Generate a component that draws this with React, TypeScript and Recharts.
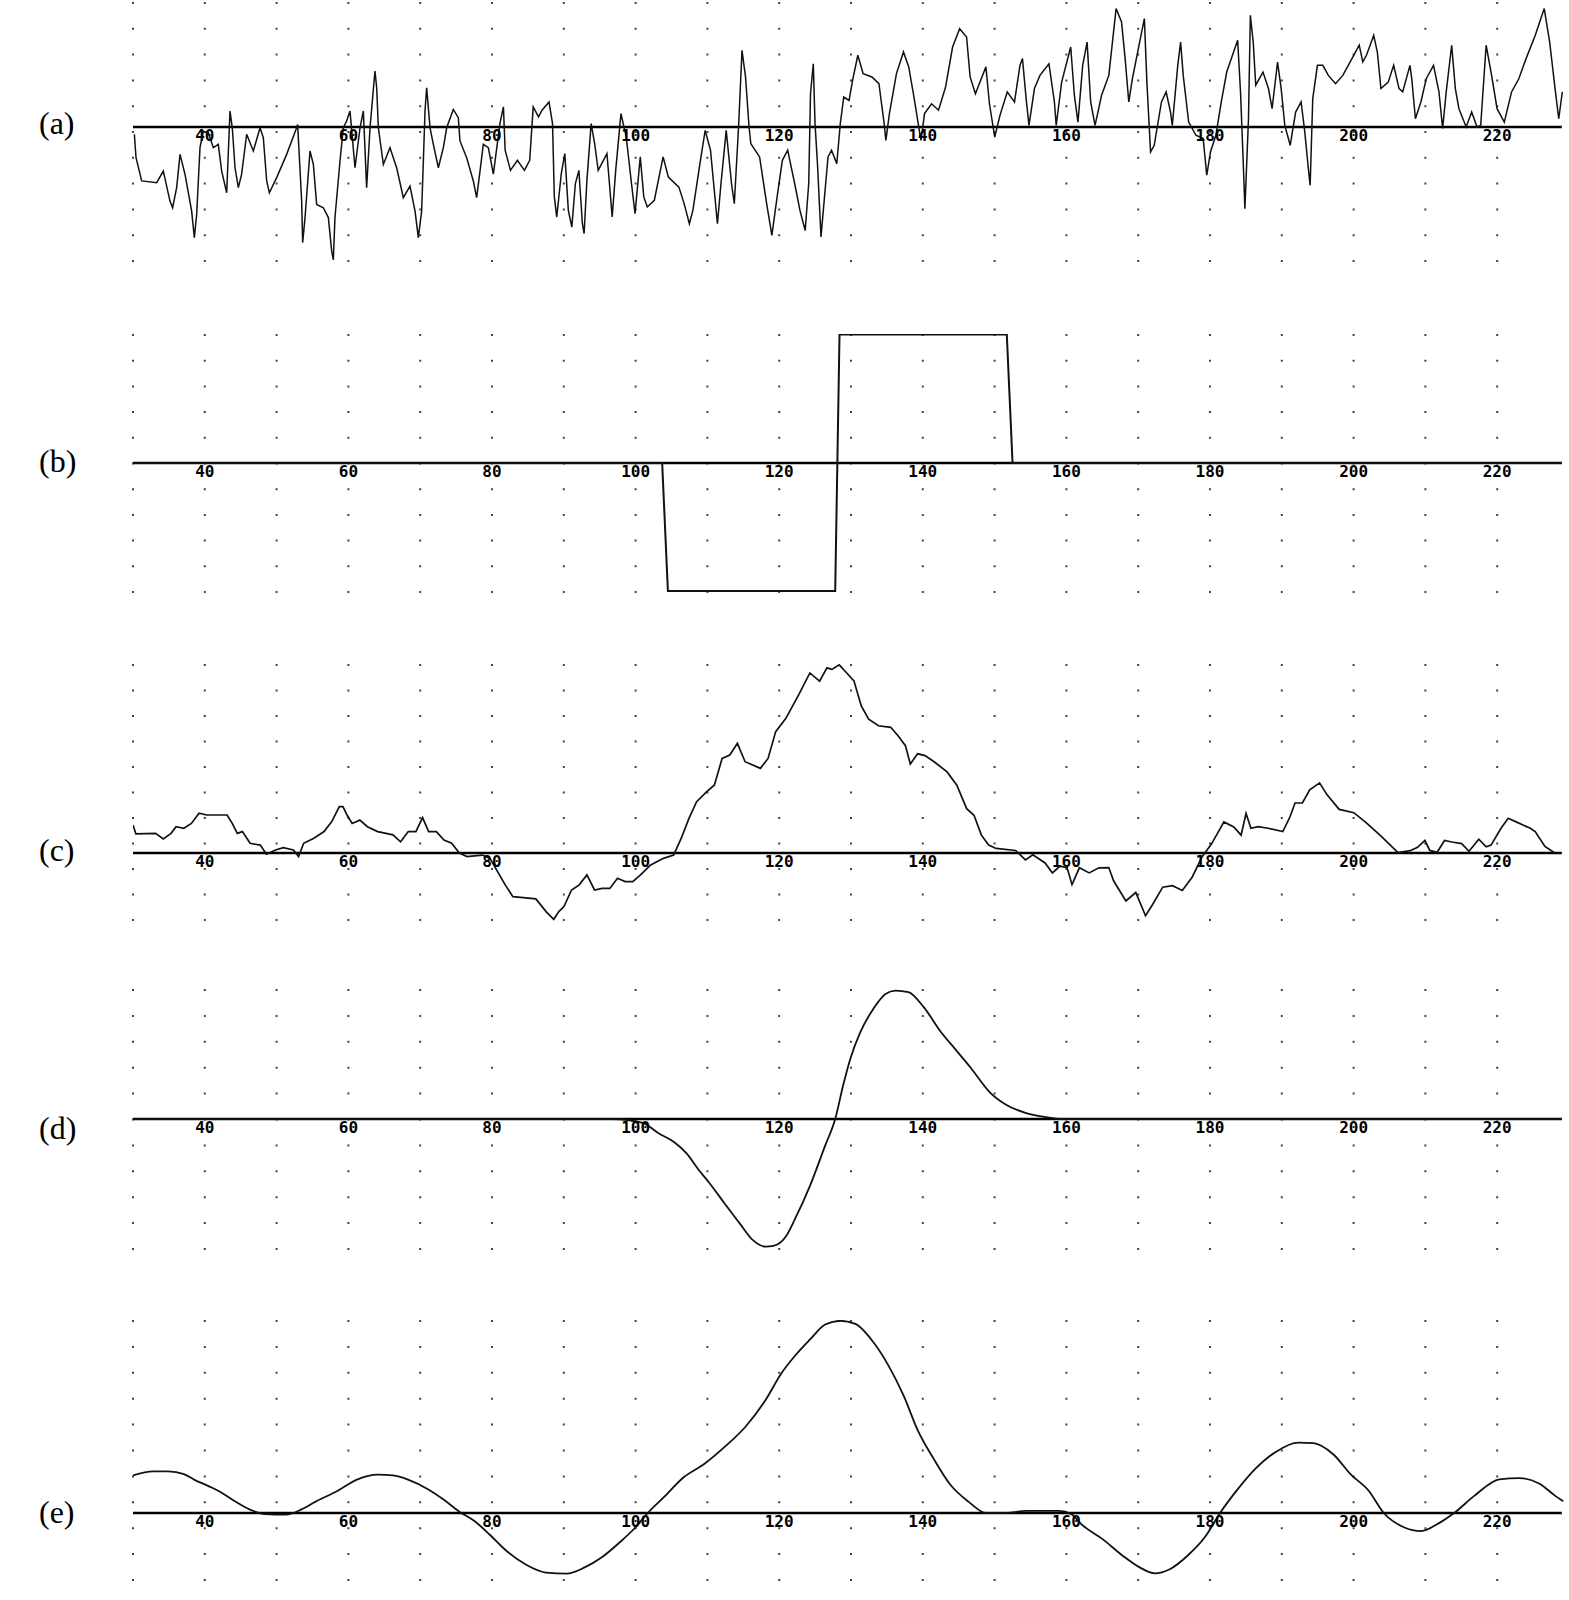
import React from 'react';
import { LineChart, Line, XAxis, YAxis, CartesianGrid, ReferenceLine, ReferenceDot } from 'recharts';

// x positions of the printed axis numbers and of the dot-grid columns
const tickValues = [40, 60, 80, 100, 120, 140, 160, 180, 200, 220];
const gridColumns = [30, 40, 50, 60, 70, 80, 90, 100, 110, 120, 130, 140, 150, 160, 170, 180, 190, 200, 210, 220];
const panelNames = ['(a)', '(b)', '(c)', '(d)', '(e)'];

// (a) noisy input signal, y in grid-row units
const traceA: [number, number][] = [
  [30.19, -0.28], [30.42, -1.19], [31.21, -2.09], [33.3, -2.16], [34.22, -1.71], [35.15, -2.87], [35.52, -3.13],
  [36.08, -2.35], [36.55, -1.06], [37.24, -1.83], [38.17, -3.26], [38.54, -4.29], [38.87, -3.39], [39.33, -0.8],
  [39.8, -0.16], [40.49, -0.22], [41.19, -0.8], [41.88, -0.67], [42.35, -1.71], [43.05, -2.55], [43.51, 0.62],
  [43.83, -0.03], [44.21, -1.58], [44.67, -2.35], [45.13, -1.83], [45.83, -0.28], [46.76, -0.93], [47.69, -0.03],
  [48.15, -0.41], [48.62, -2.09], [48.99, -2.55], [50.01, -1.96], [51.4, -1.06], [52.79, -0.03], [52.93, 0.1],
  [53.49, -2.87], [53.63, -4.48], [53.96, -3.51], [54.65, -0.93], [55.12, -1.45], [55.58, -3.0], [56.51, -3.13],
  [57.21, -3.51], [57.67, -4.81], [57.9, -5.15], [58.13, -3.51], [58.83, -1.32], [59.29, -0.03], [59.76, 0.23],
  [60.22, 0.62], [60.92, -1.58], [61.62, -0.03], [62.08, 0.62], [62.54, -2.35], [63.01, -0.03], [63.7, 2.17],
  [63.94, 1.52], [64.17, -0.03], [64.87, -1.45], [65.79, -0.8], [66.72, -1.58], [67.65, -2.74], [68.58, -2.29],
  [69.28, -3.26], [69.74, -4.29], [70.2, -3.26], [70.44, -1.32], [70.67, 0.62], [70.9, 1.52], [71.37, -0.03],
  [71.83, -0.67], [72.53, -1.58], [73.22, -0.8], [73.69, -0.03], [74.61, 0.68], [75.31, 0.36], [75.54, -0.54],
  [76.47, -1.19], [77.4, -2.09], [77.86, -2.74], [78.33, -1.71], [78.79, -0.67], [79.49, -0.8], [80.19, -1.83],
  [81.1, 0.13], [81.59, 0.78], [81.83, -0.9], [82.57, -1.68], [83.54, -1.29], [84.52, -1.68], [85.25, -1.29],
  [85.74, 0.78], [86.48, 0.39], [86.97, 0.65], [87.94, 0.97], [88.43, 0.13], [88.68, -2.71], [89.02, -3.49],
  [89.65, -1.81], [90.14, -1.03], [90.63, -3.23], [91.12, -3.88], [91.61, -2.2], [92.1, -1.68], [92.59, -3.75],
  [92.83, -4.13], [93.22, -2.07], [93.81, 0.13], [94.3, -0.65], [94.79, -1.68], [95.52, -1.29], [96.01, -1.03],
  [96.74, -3.49], [97.23, -1.68], [97.96, 0.52], [98.7, -0.39], [99.43, -2.2], [99.92, -3.36], [100.65, -1.16],
  [101.14, -2.71], [101.63, -3.1], [102.61, -2.84], [103.83, -1.16], [104.56, -1.94], [106.03, -2.33], [106.76, -2.97],
  [107.49, -3.75], [107.98, -3.23], [108.96, -1.42], [109.69, -0.13], [110.43, -0.9], [111.4, -3.75], [111.89, -2.2],
  [112.62, -0.13], [113.36, -2.2], [113.75, -2.97], [114.34, 0.0], [114.82, 2.97], [115.31, 1.94], [115.8, 0.0],
  [116.05, -0.65], [117.27, -1.16], [118.25, -2.97], [118.98, -4.2], [119.71, -2.71], [120.44, -1.29], [121.18, -0.9],
  [122.16, -2.2], [122.89, -3.23], [123.62, -4.01], [124.11, -2.2], [124.36, 1.29], [124.75, 2.45], [124.99, 0.13],
  [125.33, -1.42], [125.82, -4.26], [126.31, -2.71], [126.8, -1.16], [127.29, -0.9], [128.02, -1.42], [128.51, 0.13],
  [128.99, 1.16], [129.73, 1.03], [130.22, 1.81], [130.95, 2.78], [131.69, 2.07], [132.91, 1.94], [133.89, 1.68],
  [134.62, 0.13], [134.86, -0.52], [135.35, 0.52], [136.33, 2.07], [137.31, 2.91], [138.04, 2.33], [138.77, 1.16],
  [139.51, -0.13], [139.75, -0.52], [140.24, 0.52], [141.22, 0.9], [142.19, 0.65], [143.17, 1.55], [144.15, 3.1],
  [145.13, 3.81], [146.1, 3.49], [146.59, 1.94], [147.33, 1.29], [148.06, 1.81], [148.79, 2.33], [149.28, 0.9],
  [150.02, -0.39], [150.75, 0.45], [151.76, 1.36], [152.77, 0.97], [153.53, 2.39], [153.88, 2.65], [154.39, 1.1],
  [154.79, 0.06], [155.55, 1.49], [156.31, 2.0], [157.57, 2.45], [158.33, 0.97], [158.58, 0.06], [159.34, 1.74],
  [160.6, 3.1], [161.11, 1.23], [161.61, 0.19], [162.27, 2.39], [162.88, 3.29], [163.38, 0.97], [163.99, 0.06],
  [164.9, 1.23], [165.91, 2.0], [166.92, 4.59], [167.68, 4.07], [168.18, 2.65], [168.69, 0.97], [169.19, 1.87],
  [170.2, 3.29], [170.86, 4.2], [171.21, 1.74], [171.72, -0.97], [172.23, -0.71], [173.24, 0.97], [173.89, 1.36],
  [174.5, 0.58], [174.75, 0.06], [175.51, 2.39], [175.91, 3.29], [176.27, 2.0], [177.03, 0.19], [178.04, -0.32],
  [179.05, -0.45], [179.55, -1.87], [180.06, -0.97], [180.82, -0.32], [181.57, 0.97], [182.33, 2.13], [183.85, 3.36],
  [184.25, 1.36], [184.61, -1.23], [184.86, -3.17], [185.36, 0.32], [185.62, 4.33], [186.02, 3.29], [186.37, 1.62],
  [187.38, 2.13], [188.14, 1.49], [188.65, 0.71], [189.41, 2.52], [189.91, 1.49], [190.42, 0.06], [191.17, -0.71],
  [191.93, 0.58], [192.69, 0.97], [193.2, -0.19], [193.7, -1.62], [193.95, -2.26], [194.31, 1.1], [194.96, 2.39],
  [195.72, 2.39], [196.48, 2.0], [197.49, 1.68], [198.5, 2.0], [199.77, 2.65], [200.78, 3.17], [201.28, 2.52],
  [201.79, 2.78], [202.8, 3.55], [203.3, 2.91], [203.81, 1.49], [204.82, 1.74], [205.58, 2.39], [206.33, 1.49],
  [206.84, 1.36], [207.85, 2.39], [208.1, 1.87], [208.61, 0.32], [209.37, 0.97], [210.12, 1.87], [211.13, 2.39],
  [211.89, 1.36], [212.4, -0.06], [212.9, 1.36], [213.66, 3.17], [214.17, 1.49], [214.67, 0.71], [215.68, 0.0],
  [216.44, 0.58], [217.2, 0.0], [217.7, 0.06], [218.46, 3.17], [219.22, 2.0], [219.98, 0.71], [220.99, 0.19],
  [222.0, 1.36], [223.01, 1.87], [224.02, 2.65], [225.29, 3.55], [226.55, 4.59], [227.31, 3.29], [228.06, 1.49],
  [228.57, 0.32], [229.07, 1.36],
];

// (b) rectangular template
const traceB: [number, number][] = [
  [30, 0], [103.7, 0], [104.1, -2.5], [104.5, -4.98], [127.8, -4.98], [128.1, 0], [128.4, 5.0],
  [151.7, 5.0], [152.1, 2.5], [152.5, 0], [229, 0],
];

// (c) correlation output
const traceC: [number, number][] = [
  [30.0, 1.1], [30.4, 0.75], [33.16, 0.77], [34.22, 0.55], [35.29, 0.77], [36.0, 1.03], [37.07, 0.97], [38.13, 1.16],
  [39.2, 1.56], [40.26, 1.49], [43.11, 1.49], [43.82, 1.16], [44.53, 0.77], [45.24, 0.84], [46.31, 0.38], [47.73, 0.31],
  [48.58, -0.05], [49.86, 0.12], [50.93, 0.21], [52.35, 0.12], [53.06, -0.14], [53.77, 0.38], [55.19, 0.58], [56.61, 0.84],
  [57.68, 1.23], [58.74, 1.82], [59.24, 1.82], [59.81, 1.49], [60.52, 1.16], [61.59, 1.29], [62.65, 1.03], [64.07, 0.84],
  [66.21, 0.71], [67.27, 0.44], [68.34, 0.84], [69.4, 0.84], [70.33, 1.39], [71.18, 0.84], [72.25, 0.84], [73.31, 0.51],
  [74.38, 0.38], [75.45, 0.0], [76.51, -0.14], [78.65, -0.08], [79.71, -0.21], [80.78, -0.73], [81.84, -1.25], [82.91, -1.71],
  [86.11, -1.8], [87.53, -2.3], [88.6, -2.6], [89.31, -2.3], [90.02, -2.1], [91.08, -1.45], [92.15, -1.25], [93.22, -0.86],
  [94.28, -1.45], [95.35, -1.39], [96.41, -1.39], [97.48, -0.99], [98.55, -1.12], [99.61, -1.12], [100.68, -0.86],
  [102.1, -0.47], [103.88, -0.21], [105.3, -0.08], [106.36, 0.58], [107.43, 1.36], [108.5, 2.01], [109.92, 2.41],
  [110.98, 2.67], [112.05, 3.71], [113.12, 3.84], [114.18, 4.3], [115.25, 3.58], [117.38, 3.32], [118.45, 3.71],
  [119.51, 4.76], [120.93, 5.28], [122.71, 6.2], [124.27, 7.06], [125.63, 6.74], [126.65, 7.26], [127.34, 7.2],
  [128.36, 7.38], [129.38, 7.07], [130.41, 6.75], [131.43, 5.77], [132.46, 5.25], [133.82, 4.99], [135.53, 4.93],
  [136.55, 4.6], [137.58, 4.21], [138.26, 3.49], [139.28, 3.89], [140.31, 3.82], [141.67, 3.56], [143.38, 3.18],
  [144.74, 2.66], [146.11, 1.74], [147.13, 1.48], [148.16, 0.7], [149.18, 0.31], [150.2, 0.18], [152.93, 0.1],
  [154.3, -0.27], [155.32, -0.07], [157.03, -0.39], [158.05, -0.78], [159.08, -0.52], [160.1, -0.58], [160.78, -1.24],
  [161.81, -0.58], [163.17, -0.78], [164.54, -0.58], [165.9, -0.57], [166.59, -1.1], [168.29, -1.88], [169.66, -1.55],
  [171.02, -2.46], [172.05, -2.0], [173.41, -1.34], [174.78, -1.28], [176.14, -1.47], [177.51, -0.95], [178.87, -0.16],
  [180.24, 0.37], [181.94, 1.22], [183.31, 1.02], [184.33, 0.7], [185.02, 1.55], [185.7, 0.97], [186.72, 1.03],
  [188.09, 0.97], [190.14, 0.84], [191.16, 1.43], [191.84, 1.96], [192.87, 1.96], [193.89, 2.48], [195.26, 2.75],
  [196.28, 2.29], [197.99, 1.71], [200.03, 1.58], [201.74, 1.19], [203.79, 0.67], [206.18, 0.02], [207.88, 0.09],
  [208.91, 0.22], [209.93, 0.49], [210.61, 0.1], [211.64, 0.03], [212.66, 0.49], [213.68, 0.43], [215.05, 0.37],
  [216.07, 0.07], [217.44, 0.54], [218.46, 0.24], [219.14, 0.31], [220.51, 0.96], [221.53, 1.36], [222.56, 1.23],
  [224.6, 0.97], [225.29, 0.84], [226.65, 0.26], [228.02, 0.0],
];

// (d) filtered output
const traceD: [number, number][] = [
  [30, 0], [96.8, 0], [101.0, -0.15], [103.2, -0.55], [105.3, -0.88], [107.1, -1.33], [108.8, -1.97], [110.3, -2.48],
  [112.4, -3.26], [114.5, -4.03], [116.3, -4.67], [118.1, -4.93], [119.2, -4.9], [120.9, -4.55],
  [122.2, -3.86], [124.3, -2.57], [126.4, -1.03], [127.8, 0], [128.9, 1.29], [129.9, 2.32], [131.3, 3.35],
  [133.1, 4.25], [134.8, 4.83], [136.2, 4.96], [138.0, 4.9], [140.1, 4.33], [142.5, 3.37], [144.6, 2.67],
  [146.7, 1.97], [149.2, 1.07], [151.6, 0.55], [154.4, 0.23], [157.2, 0.07], [159.3, 0], [229, 0],
];

// (e) smoothed output
const traceE: [number, number][] = [
  [30, 1.45], [32.8, 1.61], [34.9, 1.61], [37.1, 1.5], [38.5, 1.29], [40.6, 1.03], [42.0, 0.84], [44.2, 0.45],
  [46.3, 0.13], [48.4, -0.04], [51.3, -0.06], [53.4, 0.13], [55.5, 0.45], [58.4, 0.84], [61.2, 1.29], [64.1, 1.48],
  [66.2, 1.45], [68.3, 1.29], [71.2, 0.9], [73.3, 0.51], [75.4, 0.06], [77.6, -0.32], [79.7, -0.84], [81.8, -1.41],
  [84.7, -1.99], [87.5, -2.3], [90.4, -2.34], [92.9, -2.1], [95.3, -1.71], [97.8, -1.13], [100.0, -0.55], [101.7, 0],
  [103.9, 0.6], [106.7, 1.38], [109.6, 1.9], [112.4, 2.55], [115.3, 3.33], [118.1, 4.36], [120.2, 5.35], [122.2, 6.07],
  [124.3, 6.7], [126.4, 7.28], [128.5, 7.42], [130.6, 7.3], [133.1, 6.6], [135.2, 5.7], [137.3, 4.55], [139.4, 3.13],
  [141.5, 2.1], [143.9, 1.07], [146.4, 0.43], [148.8, 0], [151.6, 0], [154.4, 0.08], [159.0, 0.08], [160.7, -0.05],
  [162.1, -0.44], [165.0, -1.0], [167.8, -1.64], [170.2, -2.1], [172.3, -2.33], [174.4, -2.17], [176.9, -1.64],
  [179.3, -0.93], [181.4, 0], [183.9, 0.93], [186.3, 1.7], [189.1, 2.35], [192.3, 2.72], [194.4, 2.7], [197.2, 2.26],
  [199.6, 1.49], [202.1, 0.86], [204.2, 0], [207.0, -0.55], [209.4, -0.7], [211.9, -0.39], [214.0, 0], [216.8, 0.66],
  [220.3, 1.3], [223.1, 1.35], [225.9, 1.13], [228.0, 0.68], [229.2, 0.45],
];

const traces = [traceA, traceB, traceC, traceD, traceE];

// page layout of each strip: top dot row, zero line, row spacing, label centre
const layout = [
  { top: 2, axis: 127, sp: 25.8, labelY: 125, stroke: 1.5, curve: 'linear' },
  { top: 334, axis: 463, sp: 25.7, labelY: 463, stroke: 2, curve: 'linear' },
  { top: 664, axis: 853, sp: 25.5, labelY: 852, stroke: 1.7, curve: 'linear' },
  { top: 989, axis: 1119, sp: 25.9, labelY: 1130, stroke: 1.8, curve: 'monotone' },
  { top: 1320, axis: 1513, sp: 25.9, labelY: 1514, stroke: 1.8, curve: 'monotone' },
];

const PAGE_W = 1569;
const PLOT_LEFT = 133;
const X_MIN = 30;
const X_MAX = 230;

// dot columns follow the same linear x mapping the chart uses
const gridX = gridColumns.map((v) => PLOT_LEFT + ((v - X_MIN) / (X_MAX - X_MIN)) * (PAGE_W - PLOT_LEFT));

const TickText = (props: any) => {
  const vb = props.viewBox || {};
  const x = (vb.x || 0) + (vb.width || 0) / 2;
  const y = (vb.y || 0) + (vb.height || 0) / 2;
  return (
    <text x={x} y={y + 14} textAnchor="middle" fontFamily="DejaVu Sans Mono" fontWeight="bold" fontSize={16} fill="#000">
      {props.text}
    </text>
  );
};

const Strip = ({ idx }: { idx: number }) => {
  const cfg = layout[idx];
  const plotH = 10 * cfg.sp + 2;
  const yMax = (cfg.axis - cfg.top) / cfg.sp;
  const yMin = yMax - plotH / cfg.sp;
  const data = traces[idx].map(([x, y]) => ({ x, y }));

  return (
    <div style={{ position: 'absolute', left: 0, top: cfg.top }}>
      <LineChart width={PAGE_W} height={plotH + 1} margin={{ top: 0, right: 0, bottom: 0, left: PLOT_LEFT }}>
        <CartesianGrid
          horizontal={false}
          vertical={true}
          verticalPoints={gridX}
          stroke="#444"
          strokeWidth={2}
          strokeDasharray={`2 ${cfg.sp - 2}`}
        />
        <XAxis
          dataKey="x"
          type="number"
          domain={[X_MIN, X_MAX]}
          ticks={gridColumns}
          allowDataOverflow
          height={1}
          tick={false}
          axisLine={false}
          tickLine={false}
        />
        <YAxis type="number" domain={[yMin, yMax]} allowDataOverflow hide />
        <ReferenceLine
          segment={[{ x: 30, y: 0 }, { x: 229, y: 0 }]}
          stroke="#000"
          strokeWidth={2.5}
        />
        <Line
          data={data}
          dataKey="y"
          type={cfg.curve as any}
          stroke="#111"
          strokeWidth={cfg.stroke}
          dot={false}
          activeDot={false}
          isAnimationActive={false}
        />
        {tickValues.map((t) => (
          <ReferenceDot
            key={t}
            x={t}
            y={0}
            r={0}
            fill="none"
            stroke="none"
            label={(p: any) => <TickText {...p} text={String(t)} />}
          />
        ))}
      </LineChart>
    </div>
  );
};

const App: React.FC = () => {
  return (
    <div style={{ position: 'absolute', left: 0, top: 0, width: PAGE_W, height: 1600, background: '#fff', overflow: 'hidden' }}>
      {layout.map((cfg, i) => (
        <div
          key={panelNames[i]}
          style={{
            position: 'absolute',
            left: 39,
            top: cfg.labelY - 18,
            fontFamily: '"Liberation Serif", serif',
            fontSize: 32,
            lineHeight: '32px',
            color: '#000',
          }}
        >
          {panelNames[i]}
        </div>
      ))}
      {layout.map((_, i) => (
        <Strip key={i} idx={i} />
      ))}
    </div>
  );
};

export default App;
